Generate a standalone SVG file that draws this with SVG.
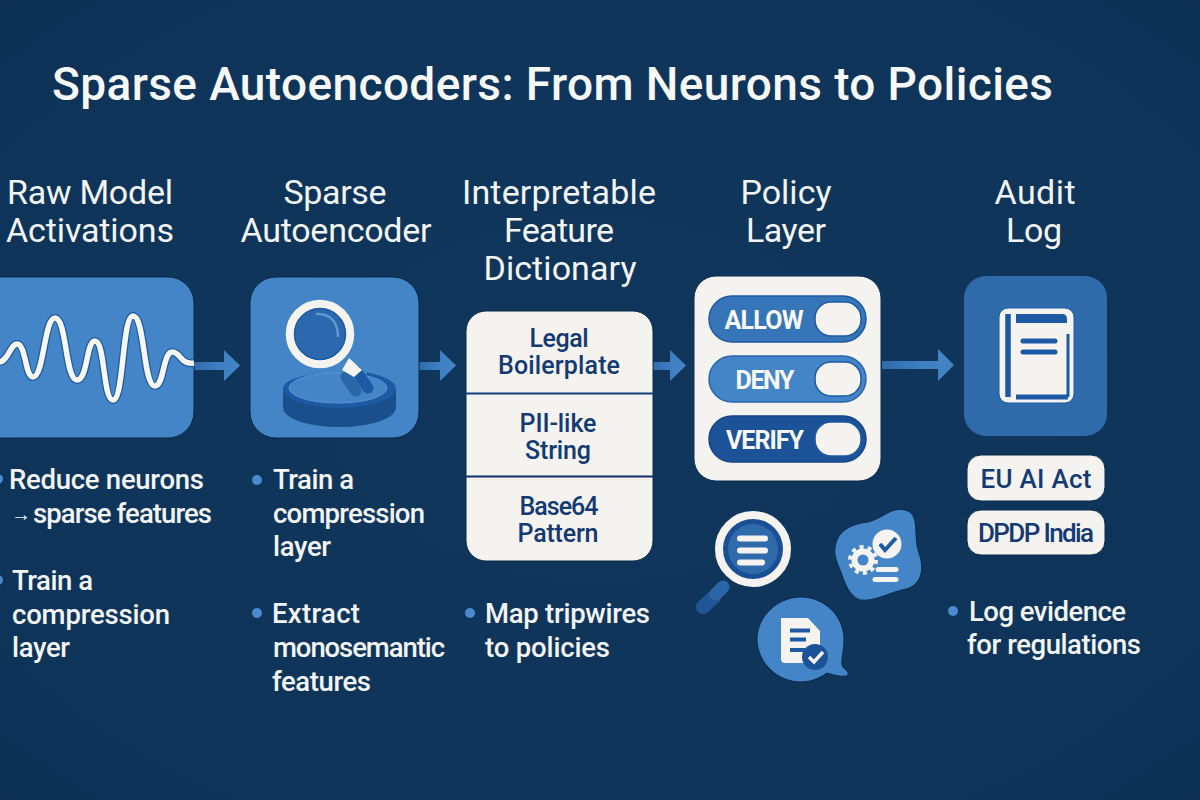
<svg xmlns="http://www.w3.org/2000/svg" width="1200" height="800" viewBox="0 0 1200 800">
<style>
text{font-family:Roboto,"Noto Sans","Liberation Sans",sans-serif}
.title{font-size:46px;font-weight:500;fill:#f6f7f7}
.head{font-size:34px;font-weight:400;fill:#f2f4f6;text-anchor:middle}
.body{font-size:27.500px;font-weight:500;fill:#f2f4f6}
.dot{fill:#4a8ad0}
.box{fill:#4385c6;stroke:#0a2a4d;stroke-width:1}
.card{fill:#f4f3ef;stroke:#0a2a4d;stroke-width:1}
.feat{font-size:25px;font-weight:500;fill:#143a74;text-anchor:middle}
.tag{font-size:26px;font-weight:500;fill:#143a74;text-anchor:middle}
.pill{font-size:25px;font-weight:700;fill:#f8f8f6;text-anchor:middle}
.sw{fill:#f4f3ef;stroke:#1d5aa3;stroke-width:1.5}
.ln{stroke:#f4f3ef;stroke-width:6;stroke-linecap:round;fill:none}
.arrow{fill:url(#sh)}
</style>
<defs>
<radialGradient id="bg" cx="50%" cy="50%" r="75%"><stop offset="0" stop-color="#11365c"/><stop offset="0.75" stop-color="#0f3459"/><stop offset="1" stop-color="#0c2f52"/></radialGradient>
<linearGradient id="sh" x1="0" x2="1" y1="0" y2="0"><stop offset="0" stop-color="#2f6bab"/><stop offset="0.6" stop-color="#3f80c4"/><stop offset="1" stop-color="#4385c6"/></linearGradient>
</defs>
<rect width="1200" height="800" fill="url(#bg)"/>
<text class="title" x="52" y="100" textLength="1001">Sparse Autoencoders: From Neurons to Policies</text>

<g id="connectors">
<path class="arrow" d="M194 362H224V350L240 365.500L224 381V370H194Z"/>
<path class="arrow" d="M419 362H440V350L456 365.500L440 381V370H419Z"/>
<path class="arrow" d="M653 362H670V350L686 365.500L670 381V370H653Z"/>
<path class="arrow" d="M882 361H938V349L954 365L938 381V369H882Z"/>
</g>

<g id="raw-activations">
<text class="head" x="90" y="204" textLength="166">Raw Model</text>
<text class="head" x="90" y="242" textLength="168">Activations</text>
<rect class="box" x="-30" y="277" width="224" height="161" rx="26"/>
<path d="M-2 362C8 363 10 344 17 344C26 344 25 377 33 377C44 377 44 318 55 318C67 318 65 380 77 380C88 380 86 341 95 341C105 341 103 400 113 400C124 400 122 316 133 316C145 316 143 386 155 386C164 386 163 352 172 352C181 352 180 365 194 363" fill="none" stroke="#1d5aa3" stroke-width="8"/>
<path d="M-2 362C8 363 10 344 17 344C26 344 25 377 33 377C44 377 44 318 55 318C67 318 65 380 77 380C88 380 86 341 95 341C105 341 103 400 113 400C124 400 122 316 133 316C145 316 143 386 155 386C164 386 163 352 172 352C181 352 180 365 194 363" fill="none" stroke="#f6f6f3" stroke-width="5.500"/>
<circle class="dot" cx="-2" cy="479" r="5"/>
<text class="body" x="9" y="489" textLength="195">Reduce neurons</text>
<text class="body" x="11" y="521" style="font-size:20px">→</text>
<text class="body" x="33" y="523" textLength="179">sparse features</text>
<circle class="dot" cx="-2" cy="580" r="5"/>
<text class="body" x="12" y="590" textLength="81">Train a</text>
<text class="body" x="12" y="624" textLength="158">compression</text>
<text class="body" x="12" y="657" textLength="58">layer</text>
</g>

<g id="sparse-autoencoder">
<text class="head" x="335" y="204" textLength="103">Sparse</text>
<text class="head" x="336" y="242" textLength="191">Autoencoder</text>
<rect class="box" x="250" y="277" width="169" height="161" rx="26"/>
<path d="M283 390V407C283 419 308 427 339 427S396 419 396 407V390Z" fill="#1b4f8c"/>
<ellipse cx="339.500" cy="389" rx="56.500" ry="19" fill="#1d5aa3"/>
<path d="M283 389C283 376 310 370 339 369L367 370V374L339 373C310 373 283 378 283 389Z" fill="#4385c6"/>
<ellipse cx="338" cy="388" rx="49" ry="15" fill="#4385c6" stroke="#5a97d6" stroke-width="1"/>
<path d="M346 377L356 391" stroke="#2a66a8" stroke-width="11" stroke-linecap="round"/>
<path d="M356 371L368 388" stroke="#1d5aa3" stroke-width="11" stroke-linecap="round"/>
<path d="M349 358L362 370L354 377L342 370Z" fill="#f4f3ef"/>
<circle cx="320" cy="334" r="30" fill="#2c68ae" stroke="#f4f3ef" stroke-width="8.500"/>
<circle cx="320" cy="334" r="25.500" fill="#2c68ae" stroke="#1d5aa3" stroke-width="1.500"/>
<path d="M316 314C331 313 338 323 338 337" stroke="#5d97d4" stroke-width="2.500" fill="none"/>
<circle class="dot" cx="257" cy="480" r="5"/>
<text class="body" x="273" y="489" textLength="81">Train a</text>
<text class="body" x="273" y="523" textLength="152">compression</text>
<text class="body" x="273" y="556" textLength="58">layer</text>
<circle class="dot" cx="257" cy="613" r="5"/>
<text class="body" x="272" y="623" textLength="88">Extract</text>
<text class="body" x="273" y="657" textLength="172">monosemantic</text>
<text class="body" x="272" y="691" textLength="99">features</text>
</g>

<g id="feature-dictionary">
<text class="head" x="559" y="204" textLength="194">Interpretable</text>
<text class="head" x="559" y="242" textLength="110">Feature</text>
<text class="head" x="560" y="280" textLength="153">Dictionary</text>
<rect class="card" x="466" y="311" width="187" height="250" rx="20"/>
<path d="M466 393.500H653" stroke="#0f3f7d" stroke-width="2"/>
<path d="M466 476.500H653" stroke="#0f2f6b" stroke-width="2"/>
<text class="feat" x="559" y="347" textLength="59">Legal</text>
<text class="feat" x="559" y="374" textLength="122">Boilerplate</text>
<text class="feat" x="558" y="432" textLength="77">PII-like</text>
<text class="feat" x="558" y="459" textLength="66">String</text>
<text class="feat" x="559" y="515" textLength="79">Base64</text>
<text class="feat" x="558" y="542" textLength="81">Pattern</text>
<circle class="dot" cx="470" cy="613" r="5"/>
<text class="body" x="485" y="623" textLength="165">Map tripwires</text>
<text class="body" x="485" y="657" textLength="125">to policies</text>
</g>

<g id="policy-layer">
<text class="head" x="786" y="204" textLength="91">Policy</text>
<text class="head" x="786" y="242" textLength="80">Layer</text>
<rect class="card" x="694" y="276" width="187" height="205" rx="22"/>
<rect x="709" y="296" width="157" height="46" rx="23" fill="#3675b8" stroke="#1d5aa3" stroke-width="1.500"/>
<rect class="sw" x="815" y="302" width="46" height="34" rx="16"/>
<text class="pill" x="764" y="329" textLength="79">ALLOW</text>
<rect x="709" y="356" width="157" height="46" rx="23" fill="#4385c6" stroke="#2a66ae" stroke-width="1.500"/>
<rect class="sw" x="815" y="362" width="46" height="34" rx="16"/>
<text class="pill" x="765" y="389" textLength="59">DENY</text>
<rect x="709" y="416" width="157" height="46" rx="23" fill="#1c5398" stroke="#14458a" stroke-width="1.500"/>
<rect class="sw" x="815" y="422" width="46" height="34" rx="16"/>
<text class="pill" x="765" y="449" textLength="78">VERIFY</text>
</g>

<g id="audit-log">
<text class="head" x="1035" y="204" textLength="81">Audit</text>
<text class="head" x="1034" y="242" textLength="56">Log</text>
<rect x="964" y="276" width="143" height="160" rx="22" fill="#2f6bab"/>
<rect x="999" y="308" width="75" height="95" rx="9" fill="#f4f3ef" stroke="#1d5aa3" stroke-width="1"/>
<path d="M1008 314V397" stroke="#1d5aa3" stroke-width="5.500"/>
<path d="M1016 314H1062Q1067 314 1067 319V323H1016Z" fill="#1d5aa3"/>
<path d="M1068 334V397" stroke="#1d5aa3" stroke-width="3"/>
<path d="M1016 397H1068" stroke="#1d5aa3" stroke-width="5"/>
<path d="M1023 341H1055M1023 352H1055" stroke="#1d5aa3" stroke-width="5" stroke-linecap="round"/>
<rect class="card" x="967" y="455" width="138" height="46" rx="14"/>
<text class="tag" x="1036" y="488" textLength="111">EU AI Act</text>
<rect class="card" x="967" y="510" width="138" height="45" rx="14"/>
<text class="tag" x="1036" y="542" textLength="116">DPDP India</text>
<circle class="dot" cx="953" cy="611" r="5"/>
<text class="body" x="969" y="621" textLength="157">Log evidence</text>
<text class="body" x="967" y="654" textLength="174">for regulations</text>
</g>

<g id="icon-magnifier">
<path d="M714 597L703 607" stroke="#1f5695" stroke-width="14" stroke-linecap="round"/>
<path d="M723 587L716 594" stroke="#2a66a8" stroke-width="13" stroke-linecap="round"/>
<circle cx="753" cy="549" r="34" fill="#1b4f95" stroke="#f4f3ef" stroke-width="8"/>
<circle cx="753" cy="549" r="25" fill="#2f6bab"/>
<path d="M740 538.500H765M740 550.500H765M740 562.500H762" class="ln"/>
</g>

<g id="icon-policy-check">
<path d="M835 548C837 530 852 524 868 522C884 518 892 505 908 511C920 517 913 537 919 553C925 570 921 585 906 589C890 592 875 602 860 600C846 595 843 575 838 565C836 559 834 554 835 548Z" fill="#4385c6" stroke="#0a2a4d"/>
<circle cx="887" cy="544" r="14.500" fill="#f4f3ef"/>
<path d="M880 544L885 550L896 538" fill="none" stroke="#1d5aa3" stroke-width="4"/>
<circle cx="863" cy="560" r="8.500" fill="none" stroke="#f4f3ef" stroke-width="6"/>
<circle cx="863" cy="560" r="13" fill="none" stroke="#f4f3ef" stroke-width="4" stroke-dasharray="4 4.200"/>
<path d="M878 569.500H896M875 579.500H896" class="ln" style="stroke-width:5"/>
</g>

<g id="icon-doc-bubble">
<path d="M801 597C825 597 844 617 844 639C844 650 841 660 842 665C843 669 850 672 848 675C845 678 833 675 827 673C820 678 811 682 801 682C777 682 757 662 757 639C757 617 777 597 801 597Z" fill="#4385c6" stroke="#0a2a4d"/>
<path d="M781 618H808L820 631V663H785Q781 663 781 659Z" fill="#f4f3ef"/>
<path d="M790 630.500H810M790 639.500H806M790 650H805" stroke="#1d5aa3" stroke-width="4"/>
<circle cx="815" cy="657" r="13" fill="#1c5398"/>
<path d="M809 657L814 662L823 652" fill="none" stroke="#f4f3ef" stroke-width="3.500"/>
</g>
</svg>
